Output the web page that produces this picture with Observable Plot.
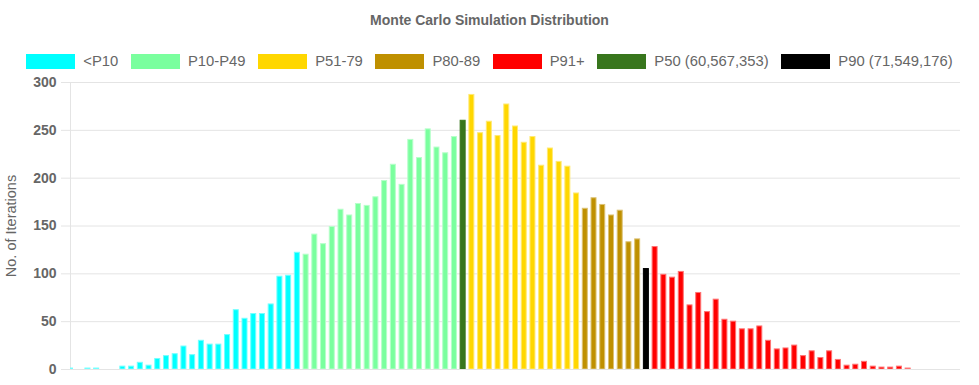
<!DOCTYPE html>
<html><head><meta charset="utf-8">
<script src="https://cdn.jsdelivr.net/npm/d3@7"></script>
<script src="https://cdn.jsdelivr.net/npm/@observablehq/plot@0.6"></script>
<style>
body{margin:0;background:#fff;font-family:"Liberation Sans",Arial,Helvetica,sans-serif;}
#wrap{position:relative;width:979px;height:385px;overflow:hidden;background:#fff}
#title{position:absolute;left:0;top:0;width:979px;height:40px;line-height:40px;text-align:center;font-weight:bold;font-size:14px;color:#666}
#legend{position:absolute;left:0;top:54px;width:979px;height:15px;display:flex;justify-content:center;align-items:center}
.item{display:flex;align-items:center;margin:0 6.3px;font-size:14.8px;line-height:15px;color:#666;white-space:nowrap}
.sw{width:49px;height:15px;margin-right:8px}
#chart{position:absolute;left:0;top:72px}
</style></head><body>
<div id="wrap">
  <div id="title">Monte Carlo Simulation Distribution</div>
  <div id="legend"></div>
  <div id="chart"></div>
</div>
<script>
// Legend / group labels (legend order) and colours
const legendLabels = ["<P10", "P10-P49", "P51-79", "P80-89", "P91+", "P50 (60,567,353)", "P90 (71,549,176)"];
const legendColors = ["#00ffff", "#7aff9e", "#ffd700", "#bf9000", "#ff0000", "#38761d", "#000000"];

// Bar counts (No. of Iterations) per bin, left to right, grouped by band
const below10 = [1, null, 1, 1, 0, 0, 3, 3, 7, 4, 11, 14, 16, 24, 15, 30, 26, 26, 36, 62, 53, 58, 58, 68, 97, 98, 122];
const p10to49 = [120, 141, 131, 149, 167, 161, 173, 171, 180, 197, 214, 193, 240, 221, 251, 232, 226, 243];
const p50 = [260];
const p51to79 = [287, 247, 259, 244, 277, 254, 237, 243, 213, 231, 217, 212, 184];
const p80to89 = [168, 179, 172, 161, 166, 133, 136];
const p90 = [105];
const above91 = [128, 99, 96, 102, 67, 80, 60, 73, 52, 50, 42, 42, 45, 30, 21, 22, 25, 14, 19, 12, 19, 10, 4, 5, 8, 3, 2, 2, 3, 1, 0, null, null, null, 0];

// Y axis ticks
const yTicks = [0, 50, 100, 150, 200, 250, 300];
const yLabel = "No. of Iterations";

// Order of the bands along the x axis
const bandOrder = [
  ["<P10", below10], ["P10-P49", p10to49], ["P50 (60,567,353)", p50], ["P51-79", p51to79],
  ["P80-89", p80to89], ["P90 (71,549,176)", p90], ["P91+", above91]
];

const colorOf = Object.fromEntries(legendLabels.map((l, k) => [l, legendColors[k]]));
const borderOf = Object.fromEntries(legendLabels.map((l, k) =>
  [l, l.startsWith("P50") || l.startsWith("P90") ? legendColors[k] : d3.interpolateRgb(legendColors[k], "#ffffff")(0.45)]));

const rows = [];
let idx = 0;
for (const [g, vals] of bandOrder) for (const v of vals) rows.push({i: idx++, g, v});

// legend
const legend = d3.select("#legend");
legendLabels.forEach((l, k) => {
  const it = legend.append("div").attr("class", "item");
  it.append("div").attr("class", "sw").style("background", legendColors[k]);
  it.append("span").text(l);
});

const half = 0.344;
const chart = Plot.plot({
  width: 979,
  height: 313,
  marginTop: 10,
  marginBottom: 16,
  marginLeft: 70,
  marginRight: 19,
  style: {fontFamily: '"Liberation Sans", Arial, Helvetica, sans-serif', color: "#666", background: "#fff"},
  x: {domain: [0, rows.length], axis: null},
  y: {domain: [0, 300], ticks: yTicks},
  color: {type: "identity"},
  marks: [
    Plot.gridY(yTicks, {stroke: "#e4e4e4", strokeOpacity: 1, insetLeft: -9}),
    Plot.ruleX([0], {stroke: "#e4e4e4"}),
    Plot.rectY(rows, {
      x1: d => d.i - half, x2: d => d.i + half, y: "v",
      fill: d => colorOf[d.g], stroke: d => borderOf[d.g], strokeWidth: 1,
      insetLeft: 0.5, insetRight: 0.5, clip: true
    }),
    Plot.axisY(yTicks, {
      tickSize: 0, tickPadding: 14, fontSize: 14, fontWeight: "bold", fill: "#666",
      label: yLabel, labelAnchor: "center", labelOffset: 65, labelArrow: false
    })
  ]
});
document.getElementById("chart").appendChild(chart);
d3.select(chart).selectAll('g[aria-label="y-axis label"] text')
  .style("font-weight", "normal").style("font-size", "14.5px")
  .each(function() { const t = this.textContent.replace(/\s*[→↑]\s*$/, ""); if (t !== this.textContent) this.textContent = t; });
</script>
</body></html>
